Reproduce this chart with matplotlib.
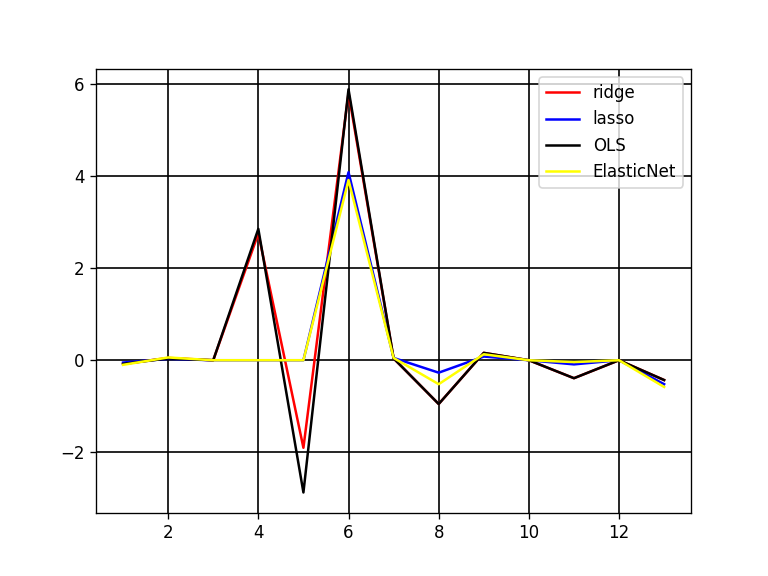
import matplotlib
matplotlib.use("Agg")
import matplotlib.pyplot as plt

# feature index
features = list(range(1, 14))

# coefficient estimates per model
ridge = [-0.08, 0.05, 0.0, 2.75, -1.9, 5.8, 0.04, -0.95, 0.16, 0.0, -0.39, 0.0, -0.43]
lasso = [-0.05, 0.03, 0.0, 0.0, 0.0, 4.08, 0.05, -0.27, 0.08, 0.0, -0.09, 0.0, -0.52]
ols = [-0.08, 0.04, 0.0, 2.85, -2.87, 5.88, 0.04, -0.95, 0.16, 0.0, -0.39, 0.0, -0.43]
enet = [-0.1, 0.06, 0.0, 0.0, 0.0, 3.91, 0.05, -0.52, 0.13, 0.0, -0.04, 0.0, -0.58]

fig = plt.figure(figsize=(6.4, 4.8), dpi=120)
plt.plot(features, ridge, color="red", label="ridge")
plt.plot(features, lasso, color="blue", label="lasso")
plt.plot(features, ols, color="black", label="OLS")
plt.plot(features, enet, color="yellow", label="ElasticNet")
plt.grid(color="black", linewidth=1)
plt.legend(loc="upper right")
plt.savefig("out.png")
